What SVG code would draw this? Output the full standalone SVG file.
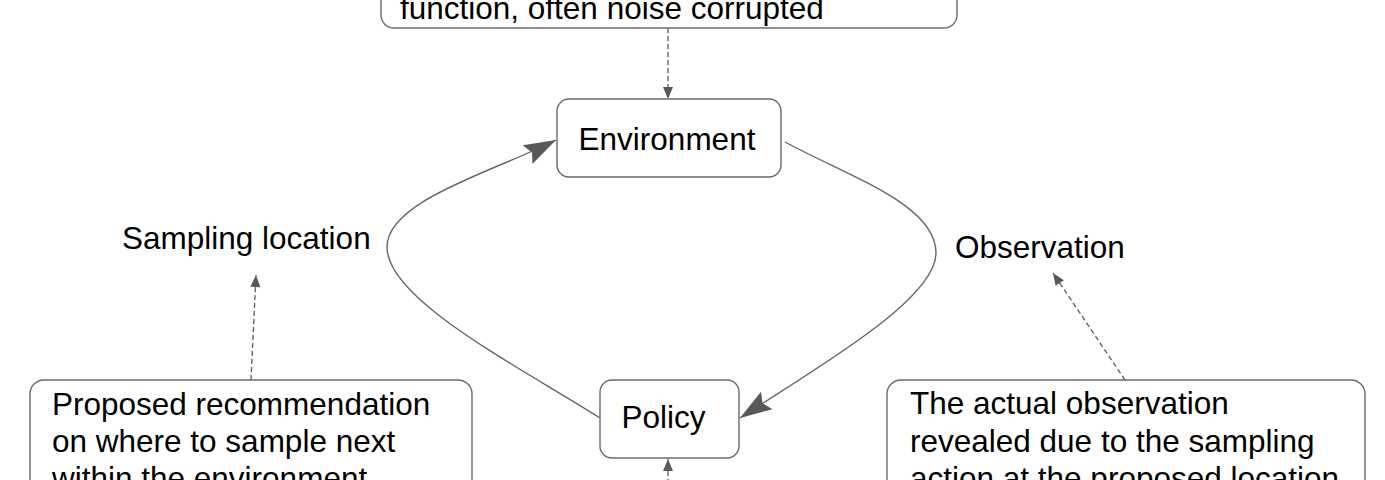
<svg xmlns="http://www.w3.org/2000/svg" width="1385" height="480" viewBox="0 0 1385 480">
  <style>
    .box { fill: #ffffff; stroke: #6b6b6b; stroke-width: 1.4; }
    .txt { font-family: "Liberation Sans", Arial, sans-serif; font-size: 31.5px; fill: #000000; }
    .flow { fill: none; stroke: #666666; stroke-width: 1.4; }
    .dash { fill: none; stroke: #666666; stroke-width: 1.4; stroke-dasharray: 5 3; }
  </style>
  <defs>
    <marker id="bigArrow" markerUnits="userSpaceOnUse" viewBox="-33 -11 34 22" markerWidth="34" markerHeight="22" refX="0" refY="0" orient="auto">
      <path d="M0,0 L-32,-10.5 L-27,0 L-32,10.5 Z" fill="#595959"/>
    </marker>
    <marker id="smallArrow" markerUnits="userSpaceOnUse" viewBox="-13 -6 14 12" markerWidth="14" markerHeight="12" refX="0" refY="0" orient="auto">
      <path d="M0,0 L-12,-5 L-12,5 Z" fill="#595959"/>
    </marker>
  </defs>

  <g id="connectors">
    <path class="flow" d="M600,418 C520,367 387,300 387,247 C387,200 496,171 556,140" marker-end="url(#bigArrow)"/>
    <path class="flow" d="M785,142 C852,178 936,205 936,253 C936,300 816,368 740,418" marker-end="url(#bigArrow)"/>
    <path class="dash" d="M668,28 L668,99" marker-end="url(#smallArrow)"/>
    <path class="dash" d="M251,380 L256,275" marker-end="url(#smallArrow)"/>
    <path class="dash" d="M1125,380 L1053,273" marker-end="url(#smallArrow)"/>
    <path class="dash" d="M668,540 L668,459" marker-end="url(#smallArrow)"/>
  </g>

  <g id="node-objective">
    <rect class="box" x="381" y="-60" width="576" height="88" rx="13"/>
    <text class="txt" x="400" y="19">function, often noise corrupted</text>
  </g>

  <g id="node-environment">
    <rect class="box" x="557" y="99" width="224" height="78" rx="12"/>
    <text class="txt" x="667" y="150" text-anchor="middle">Environment</text>
  </g>

  <g id="node-policy">
    <rect class="box" x="600" y="380" width="139" height="78" rx="12"/>
    <text class="txt" x="663.5" y="428" text-anchor="middle">Policy</text>
  </g>

  <g id="label-sampling">
    <text class="txt" x="122" y="249">Sampling location</text>
  </g>

  <g id="label-observation">
    <text class="txt" x="955" y="258">Observation</text>
  </g>

  <g id="node-recommendation">
    <rect class="box" x="30" y="380" width="442" height="150" rx="14"/>
    <text class="txt" x="52" y="415">Proposed recommendation</text>
    <text class="txt" x="52" y="452">on where to sample next</text>
    <text class="txt" x="52" y="489">within the environment</text>
  </g>

  <g id="node-actual-observation">
    <rect class="box" x="887" y="380" width="478" height="150" rx="14"/>
    <text class="txt" x="910" y="414">The actual observation</text>
    <text class="txt" x="910" y="452">revealed due to the sampling</text>
    <text class="txt" x="910" y="489">action at the proposed location</text>
  </g>
</svg>
